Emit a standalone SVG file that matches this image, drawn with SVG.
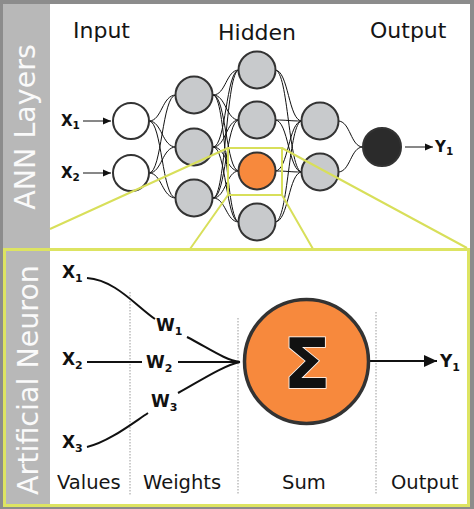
<svg xmlns="http://www.w3.org/2000/svg" width="474" height="509" viewBox="0 0 474 509">
<style>
.lbl{font-family:"DejaVu Sans","Liberation Sans",sans-serif;fill:#151515}
.bold{font-family:"DejaVu Sans","Liberation Sans",sans-serif;font-weight:bold;fill:#111;font-size:15px}
.big{font-size:17px}
.side{font-family:"DejaVu Sans","Liberation Sans",sans-serif;fill:#fafafa;font-size:28.5px;text-anchor:middle}
.node{stroke:#333;stroke-width:2}
.gray{fill:#c8cacc}
.conn path{fill:none;stroke:#111;stroke-width:1}
.nconn path{fill:none;stroke:#111;stroke-width:2}
.zoom{fill:none;stroke:#d8df5a;stroke-width:2}
.dot{stroke:#9a9a9a;stroke-width:1;stroke-dasharray:1.5 1.5}
</style>
<defs>
<marker id="ah" markerUnits="userSpaceOnUse" markerWidth="9" markerHeight="9" refX="8" refY="4.5" orient="auto"><path d="M0,1 L8,4.5 L0,8 Z" fill="#111"/></marker>
<marker id="ahL" markerUnits="userSpaceOnUse" markerWidth="14" markerHeight="14" refX="13" refY="7" orient="auto"><path d="M0,1 L13,7 L0,13 Z" fill="#111"/></marker>
</defs>
<rect x="0" y="0" width="474" height="509" fill="#8c8c8c"/>
<rect x="3" y="4" width="467" height="245" fill="#fff"/>
<rect x="3" y="4" width="47" height="245" fill="#b8b8b8"/>
<text class="side" transform="translate(35,127) rotate(-90)">ANN Layers</text>

<text class="lbl" x="73" y="38" font-size="22">Input</text>
<text class="lbl" x="218" y="40" font-size="22">Hidden</text>
<text class="lbl" x="370" y="38" font-size="22">Output</text>

<g id="connectors">
<g class="conn">
<path d="M149 121C162 121 162 95 176 95M149 121C162 121 162 147 176 147M149 121C162 121 162 198 176 198M149 173C162 173 162 95 176 95M149 173C162 173 162 147 176 147M149 173C162 173 162 198 176 198"/>
<path d="M213 95C226 95 226 70 239 70M213 95C226 95 226 120 239 120M213 95C226 95 226 171 239 171M213 95C226 95 226 222 239 222M213 147C226 147 226 70 239 70M213 147C226 147 226 120 239 120M213 147C226 147 226 171 239 171M213 147C226 147 226 222 239 222M213 198C226 198 226 70 239 70M213 198C226 198 226 120 239 120M213 198C226 198 226 171 239 171M213 198C226 198 226 222 239 222"/>
<path d="M275 70C288.5 70 288.5 121 302 121M275 70C288.5 70 288.5 172 302 172M275 120C288.5 120 288.5 121 302 121M275 120C288.5 120 288.5 172 302 172M275 171C288.5 171 288.5 121 302 121M275 171C288.5 171 288.5 172 302 172M275 222C288.5 222 288.5 121 302 121M275 222C288.5 222 288.5 172 302 172"/>
<path d="M338 121C350.5 121 350.5 147 363 147M338 172C350.5 172 350.5 147 363 147"/>
<path d="M83 121H111" stroke-width="1.5" marker-end="url(#ah)"/>
<path d="M83 173H111" stroke-width="1.5" marker-end="url(#ah)"/>
<path d="M405 147H433" stroke-width="1.5" marker-end="url(#ah)"/>
</g>
</g>

<g id="in1"><circle class="node" cx="131" cy="121" r="18" fill="#fff"/></g>
<g id="in2"><circle class="node" cx="131" cy="173" r="18" fill="#fff"/></g>
<g id="h1a"><circle class="node gray" cx="194" cy="95" r="18.5"/></g>
<g id="h1b"><circle class="node gray" cx="194" cy="147" r="18.5"/></g>
<g id="h1c"><circle class="node gray" cx="194" cy="198" r="18.5"/></g>
<g id="h2a"><circle class="node gray" cx="257" cy="70" r="18.5"/></g>
<g id="h2b"><circle class="node gray" cx="257" cy="120" r="18.5"/></g>
<g id="h2c"><circle class="node" cx="257" cy="171" r="18.5" fill="#f7893d"/></g>
<g id="h2d"><circle class="node gray" cx="257" cy="222" r="18.5"/></g>
<g id="h3a"><circle class="node gray" cx="320" cy="121" r="18.5"/></g>
<g id="h3b"><circle class="node gray" cx="320" cy="172" r="18.5"/></g>
<g id="out"><circle class="node" cx="382" cy="147" r="19" fill="#2b2b2b"/></g>

<text class="bold" x="61" y="126">X<tspan font-size="10.5" dy="3">1</tspan></text>
<text class="bold" x="61" y="178">X<tspan font-size="10.5" dy="3">2</tspan></text>
<text class="bold" x="435" y="152">Y<tspan font-size="10.5" dy="3">1</tspan></text>

<g id="zoomlines">
<rect class="zoom" x="228" y="148" width="54" height="47"/>
<path class="zoom" d="M50 229L228 148M282 148L467 248M228 195L190 249M282 195L313 249"/>
</g>

<rect x="4.5" y="249.5" width="464" height="256" fill="#fff" stroke="#dde462" stroke-width="3"/>
<rect x="6" y="251" width="44" height="253" fill="#b8b8b8"/>
<text class="side" transform="translate(38,380) rotate(-90)">Artificial Neuron</text>

<g id="dividers">
<line class="dot" x1="130" y1="292" x2="130" y2="495"/>
<line class="dot" x1="238" y1="318" x2="238" y2="495"/>
<line class="dot" x1="376" y1="312" x2="376" y2="495"/>
</g>

<g id="neuron-connectors">
<g class="nconn">
<path d="M87 278C115 280 135 305 155 319"/>
<path d="M187 337C210 349 225 360 240 362"/>
<path d="M87 362H142M178 362H240"/>
<path d="M87 447C108 442 130 425 148 413"/>
<path d="M178 393C200 381 222 366 240 362"/>
<path d="M369 361H437" marker-end="url(#ahL)"/>
</g>
</g>

<g id="sum">
<circle cx="306.5" cy="361.5" r="62" fill="#f7893d" stroke="#333" stroke-width="3.5"/>
<text x="307" y="388" text-anchor="middle" font-family="DejaVu Sans, sans-serif" font-weight="bold" font-size="70" fill="#111" stroke="#fff" stroke-width="1.5" paint-order="stroke">Σ</text>
</g>

<g id="x1"><text class="bold big" x="62" y="278">X<tspan font-size="11" dy="3.5">1</tspan></text></g>
<g id="x2"><text class="bold big" x="62" y="365">X<tspan font-size="11" dy="3.5">2</tspan></text></g>
<g id="x3"><text class="bold big" x="62" y="448">X<tspan font-size="11" dy="3.5">3</tspan></text></g>
<g id="w1"><text class="bold big" x="156" y="331">W<tspan font-size="11" dy="3.5">1</tspan></text></g>
<g id="w2"><text class="bold big" x="146" y="368">W<tspan font-size="11" dy="3.5">2</tspan></text></g>
<g id="w3"><text class="bold big" x="151" y="407">W<tspan font-size="11" dy="3.5">3</tspan></text></g>
<g id="y1"><text class="bold big" x="440" y="367">Y<tspan font-size="11" dy="3.5">1</tspan></text></g>

<text class="lbl" x="57" y="489" font-size="19.5">Values</text>
<text class="lbl" x="143" y="489" font-size="19.5">Weights</text>
<text class="lbl" x="282" y="489" font-size="19.5">Sum</text>
<text class="lbl" x="391" y="489" font-size="19.5">Output</text>
</svg>
